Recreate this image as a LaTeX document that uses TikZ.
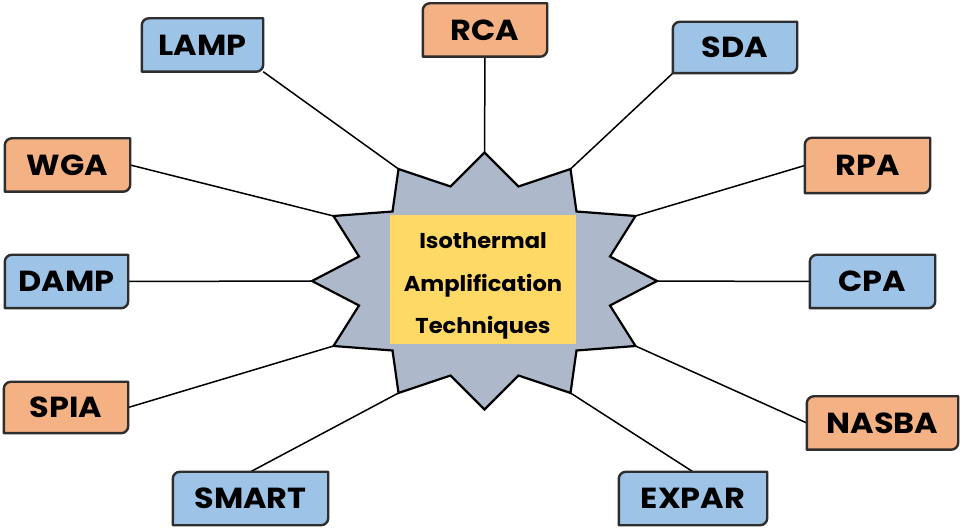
\documentclass[tikz,border=0pt]{standalone}
\usepackage{fontspec}
\setmainfont{Poppins}
\newfontfamily\tagfont[FakeStretch=1.1]{Poppins}
\newfontfamily\corefam[FakeStretch=1.05]{Poppins}
\usetikzlibrary{backgrounds,calc}
\definecolor{tagblue}{HTML}{9DC3E6}
\definecolor{tagorange}{HTML}{F4B183}
\definecolor{stargray}{HTML}{ADB9CA}
\definecolor{coreyellow}{HTML}{FFD966}
\definecolor{tagedge}{HTML}{2E2E2E}
\newcommand\tagshape[2]{\draw[tagline, fill=#2] (#1.south west) -- ([yshift=-7pt]#1.north west) arc[start angle=180,end angle=90,radius=7pt] -- (#1.north east) -- ([yshift=7pt]#1.south east) arc[start angle=0,end angle=-90,radius=7pt] -- cycle;}
\begin{document}
\begin{tikzpicture}[x=1pt,y=1pt,
  tag/.style={minimum width=124pt, minimum height=53pt, inner xsep=0pt, inner ysep=0pt, font=\tagfont\bfseries\fontsize{29}{30}\selectfont, text=black},
  tagline/.style={draw=tagedge, line width=2.4pt, line join=round},
  link/.style={draw=black, line width=1.5pt},
  corefont/.style={font=\corefam\bfseries\fontsize{21.5}{24}\selectfont, anchor=base, text=black}]
\useasboundingbox (0,0) rectangle (966,530);
% tags
\node[tag, minimum width=121pt] (lamp) at (202.5,485) {LAMP};
\node[tag] (rca) at (485,500) {RCA};
\node[tag, minimum height=51pt] (sda) at (735,482.5) {SDA};
\node[tag, minimum width=125pt] (wga) at (67.5,365) {WGA};
\node[tag, minimum width=125pt, minimum height=55pt] (rpa) at (867.5,364.5) {RPA};
\node[tag, minimum width=123pt] (damp) at (66.5,248.5) {DAMP};
\node[tag, minimum width=125pt] (cpa) at (872.5,248.5) {CPA};
\node[tag, minimum height=51pt] (spia) at (66,122.5) {SPIA};
\node[tag, minimum width=151pt] (nasba) at (882.5,107) {NASBA};
\node[tag, minimum width=155pt] (smart) at (250.5,31.5) {SMART};
\node[tag, minimum width=148pt] (expar) at (693,31.5) {EXPAR};
% star points
\coordinate (c) at (484.5,249);
\coordinate (s0) at ($(c)+(0,128.5)$);
\coordinate (i0) at ($(c)+(34,94.5)$);
\coordinate (s1) at ($(c)+(86,112)$);
\coordinate (i1) at ($(c)+(92,69.5)$);
\coordinate (s2) at ($(c)+(151,65)$);
\coordinate (i2) at ($(c)+(125.5,24.5)$);
\coordinate (s3) at ($(c)+(172.5,0)$);
\coordinate (i3) at ($(c)+(125.5,-24.5)$);
\coordinate (s4) at ($(c)+(151,-65)$);
\coordinate (i4) at ($(c)+(92,-69.5)$);
\coordinate (s5) at ($(c)+(86,-112)$);
\coordinate (i5) at ($(c)+(34,-94.5)$);
\coordinate (s6) at ($(c)+(0,-128.5)$);
\coordinate (i6) at ($(c)+(-34,-94.5)$);
\coordinate (s7) at ($(c)+(-86,-112)$);
\coordinate (i7) at ($(c)+(-92,-69.5)$);
\coordinate (s8) at ($(c)+(-151,-65)$);
\coordinate (i8) at ($(c)+(-125.5,-24.5)$);
\coordinate (s9) at ($(c)+(-172.5,0)$);
\coordinate (i9) at ($(c)+(-125.5,24.5)$);
\coordinate (s10) at ($(c)+(-151,65)$);
\coordinate (i10) at ($(c)+(-92,69.5)$);
\coordinate (s11) at ($(c)+(-86,112)$);
\coordinate (i11) at ($(c)+(-34,94.5)$);
% core
\node[fill=coreyellow, minimum width=186pt, minimum height=129pt, inner sep=0pt] (core) at (483,250.5) {};
\node[corefont] (t1) at (483,281.7) {Isothermal};
\node[corefont] (t2) at (483,238.3) {Amplification};
\node[corefont] (t3) at (483,196) {Techniques};
\begin{scope}[on background layer]
  \draw[link] (rca.south) -- (s0);
  \draw[link] (sda.south west) -- (s1);
  \draw[link] (rpa.west) -- (s2);
  \draw[link] (cpa.west) -- (s3);
  \draw[link] (nasba.west) -- (s4);
  \draw[link] (expar.north) -- (s5);
  \draw[link] (smart.north) -- (s7);
  \draw[link] (spia.east) -- (s8);
  \draw[link] (damp.east) -- (s9);
  \draw[link] (wga.east) -- (s10);
  \draw[link] (lamp.south east) -- (s11);
  \draw[fill=stargray, draw=black, line width=2.2pt, line join=miter]
    (s0) -- (i0) -- (s1) -- (i1) -- (s2) -- (i2) -- (s3) -- (i3) -- (s4) -- (i4) -- (s5) -- (i5) --
    (s6) -- (i6) -- (s7) -- (i7) -- (s8) -- (i8) -- (s9) -- (i9) -- (s10) -- (i10) -- (s11) -- (i11) -- cycle;
  \tagshape{lamp}{tagblue}
  \tagshape{rca}{tagorange}
  \tagshape{sda}{tagblue}
  \tagshape{wga}{tagorange}
  \tagshape{rpa}{tagorange}
  \tagshape{damp}{tagblue}
  \tagshape{cpa}{tagblue}
  \tagshape{spia}{tagorange}
  \tagshape{nasba}{tagorange}
  \tagshape{smart}{tagblue}
  \tagshape{expar}{tagblue}
\end{scope}
\end{tikzpicture}
\end{document}
